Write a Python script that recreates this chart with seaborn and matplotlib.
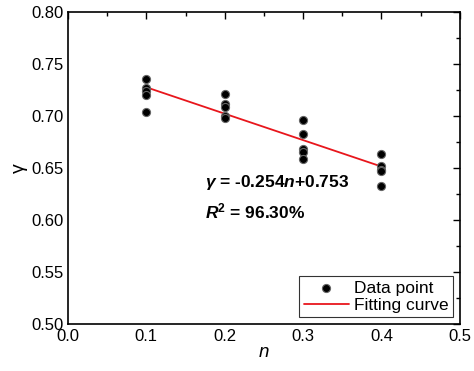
import matplotlib
matplotlib.use("Agg")
import matplotlib.pyplot as plt
import seaborn as sns
import numpy as np
import pandas as pd
from matplotlib.ticker import MultipleLocator

n_values = [0.1, 0.1, 0.1, 0.1, 0.1,
            0.2, 0.2, 0.2, 0.2, 0.2,
            0.3, 0.3, 0.3, 0.3, 0.3,
            0.4, 0.4, 0.4, 0.4, 0.4]
gamma_values = [0.736, 0.727, 0.724, 0.720, 0.704,
                0.721, 0.712, 0.709, 0.700, 0.698,
                0.696, 0.683, 0.668, 0.665, 0.659,
                0.663, 0.652, 0.648, 0.647, 0.633]
slope = -0.254
intercept = 0.753
fit_n = [0.1, 0.4]
fit_gamma = [slope * x + intercept for x in fit_n]

sns.set_style("white")
plt.rcParams['font.family'] = ['Liberation Sans', 'DejaVu Sans']
plt.rcParams['text.color'] = 'black'
plt.rcParams['axes.labelcolor'] = 'black'
plt.rcParams['xtick.color'] = 'black'
plt.rcParams['ytick.color'] = 'black'
plt.rcParams['mathtext.fontset'] = 'custom'
plt.rcParams['mathtext.it'] = 'Liberation Sans:italic'
plt.rcParams['mathtext.bf'] = 'Liberation Sans:bold'
plt.rcParams['mathtext.bfit'] = 'Liberation Sans:italic:bold'
plt.rcParams['mathtext.rm'] = 'Liberation Sans'

fig = plt.figure(figsize=(4.74, 3.71), dpi=100)
ax = fig.add_axes([0.1435, 0.1267, 0.8265, 0.841])

df = pd.DataFrame({"n": n_values, "gamma": gamma_values})
fit_df = pd.DataFrame({"n": fit_n, "gamma": fit_gamma})

sns.scatterplot(data=df, x="n", y="gamma", ax=ax, color="black", s=34,
                edgecolor="#666666", linewidth=0.8, label="Data point", zorder=3)
sns.lineplot(data=fit_df, x="n", y="gamma", ax=ax, color="#e8161c", linewidth=1.3,
             label="Fitting curve", zorder=2)

ax.set_xlim(0.0, 0.5)
ax.set_ylim(0.50, 0.80)
ax.xaxis.set_major_locator(MultipleLocator(0.1))
ax.xaxis.set_minor_locator(MultipleLocator(0.05))
ax.yaxis.set_major_locator(MultipleLocator(0.05))
ax.yaxis.set_minor_locator(MultipleLocator(0.025))
ax.xaxis.set_major_formatter(matplotlib.ticker.FormatStrFormatter('%.1f'))
ax.yaxis.set_major_formatter(matplotlib.ticker.FormatStrFormatter('%.2f'))
ax.tick_params(which='both', direction='in', top=True, right=True,
               labelsize=12, width=1, color='black', labelcolor='black')
ax.tick_params(which='major', length=5)
ax.tick_params(which='minor', length=3)
for sp in ax.spines.values():
    sp.set_visible(True)
    sp.set_color('black')
    sp.set_linewidth(1.2)

ax.set_xlabel("$n$", fontsize=13.5, labelpad=0)
ax.set_ylabel("γ", fontsize=14, labelpad=2)

ax.text(0.175, 0.636, r"$\mathbfit{\gamma}$ = -0.254$\mathbfit{n}$+0.753", fontsize=12.5,
        fontweight='bold', va='center', color='black')
ax.text(0.175, 0.608, r"$\mathbfit{R}^{\mathbf{2}}$ = 96.30%", fontsize=12.5,
        fontweight='bold', va='center', color='black')

leg = ax.legend(loc='lower right', fontsize=12.5, frameon=True, fancybox=False,
                edgecolor='black', borderpad=0.25, handlelength=2.6,
                handletextpad=0.3, labelspacing=0.1, borderaxespad=0.4)
leg.get_frame().set_linewidth(0.8)
for t in leg.get_texts():
    t.set_color('black')

fig.savefig("out.png", dpi=100)
